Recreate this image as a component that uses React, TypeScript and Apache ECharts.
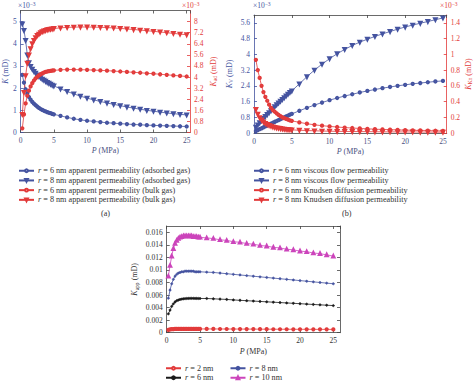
import React, { useEffect, useRef } from 'react';
import * as echarts from 'echarts';

// Pressure points (MPa)
const P = [0.25, 0.5, 0.75, 1, 1.25, 1.5, 1.75, 2, 2.25, 2.5, 2.75, 3, 3.25, 3.5, 3.75, 4, 4.25, 4.5, 4.75, 5,
  6, 7, 8, 9, 10, 11, 12, 13, 14, 15, 16, 17, 18, 19, 20, 21, 22, 23, 24, 25];

// (a) apparent permeability, x1e-3 mD
const aAds6 = [2.6, 2.25, 1.95, 1.75, 1.6, 1.48, 1.38, 1.3, 1.23, 1.17, 1.11, 1.06, 1.02, 0.98, 0.95, 0.92, 0.89, 0.87, 0.84, 0.82,
  0.75, 0.68, 0.62, 0.57, 0.53, 0.5, 0.47, 0.44, 0.42, 0.4, 0.38, 0.36, 0.35, 0.33, 0.32, 0.31, 0.3, 0.29, 0.28, 0.27];
const aAds8 = [4.9, 4.6, 4.15, 3.5, 3.15, 2.98, 2.86, 2.76, 2.68, 2.6, 2.53, 2.47, 2.41, 2.36, 2.31, 2.26, 2.22, 2.18, 2.14, 2.1,
  1.97, 1.85, 1.74, 1.64, 1.55, 1.47, 1.4, 1.33, 1.27, 1.21, 1.15, 1.1, 1.05, 1.0, 0.96, 0.92, 0.88, 0.85, 0.82, 0.79];
const aBulk6 = [0.3, 1.3, 2.1, 2.65, 3.02, 3.32, 3.56, 3.75, 3.9, 4.02, 4.12, 4.2, 4.27, 4.32, 4.37, 4.4, 4.43, 4.45, 4.47, 4.48,
  4.52, 4.54, 4.54, 4.53, 4.52, 4.5, 4.48, 4.46, 4.43, 4.4, 4.37, 4.34, 4.31, 4.27, 4.24, 4.2, 4.16, 4.12, 4.08, 4.04];
const aBulk8 = [1.3, 2.9, 4.1, 5.0, 5.6, 6.05, 6.4, 6.65, 6.85, 7.0, 7.1, 7.2, 7.27, 7.32, 7.37, 7.41, 7.44, 7.46, 7.48, 7.5,
  7.55, 7.58, 7.6, 7.61, 7.61, 7.6, 7.59, 7.57, 7.54, 7.51, 7.47, 7.43, 7.39, 7.34, 7.3, 7.25, 7.2, 7.15, 7.1, 7.05];

// (b) viscous flow and Knudsen diffusion permeability, x1e-3 mD
const bVis6 = [0.1, 0.15, 0.2, 0.24, 0.29, 0.34, 0.38, 0.43, 0.48, 0.52, 0.57, 0.61, 0.66, 0.7, 0.75, 0.79, 0.84, 0.88, 0.93, 0.97,
  1.13, 1.28, 1.42, 1.55, 1.67, 1.78, 1.88, 1.97, 2.06, 2.14, 2.21, 2.28, 2.34, 2.4, 2.45, 2.5, 2.54, 2.58, 2.62, 2.65];
const bVis8 = [0.3, 0.41, 0.52, 0.63, 0.74, 0.84, 0.94, 1.04, 1.14, 1.24, 1.34, 1.44, 1.53, 1.62, 1.71, 1.8, 1.89, 1.98, 2.06, 2.14,
  2.5, 2.86, 3.2, 3.5, 3.78, 4.03, 4.25, 4.45, 4.62, 4.77, 4.91, 5.04, 5.16, 5.28, 5.39, 5.49, 5.58, 5.67, 5.76, 5.85];
const bKn6 = [0.93, 0.8, 0.7, 0.6, 0.52, 0.46, 0.41, 0.36, 0.32, 0.29, 0.27, 0.25, 0.23, 0.215, 0.2, 0.19, 0.18, 0.17, 0.16, 0.155,
  0.135, 0.118, 0.104, 0.093, 0.084, 0.076, 0.069, 0.063, 0.058, 0.053, 0.049, 0.045, 0.042, 0.039, 0.036, 0.034, 0.032, 0.03, 0.028, 0.026];
const bKn8 = [0.3, 0.24, 0.195, 0.165, 0.14, 0.122, 0.108, 0.096, 0.087, 0.079, 0.072, 0.066, 0.061, 0.057, 0.053, 0.05, 0.047, 0.044, 0.042, 0.04,
  0.035, 0.031, 0.028, 0.025, 0.023, 0.021, 0.02, 0.019, 0.018, 0.017, 0.016, 0.015, 0.014, 0.014, 0.013, 0.013, 0.012, 0.012, 0.011, 0.011];

// (c) K_app (mD)
const c2 = [0.00045, 0.00052, 0.00056, 0.00058, 0.0006, 0.0006, 0.00061, 0.00061, 0.00061, 0.00061, 0.00061, 0.00061, 0.00061, 0.00061, 0.00061, 0.0006, 0.0006, 0.0006, 0.0006, 0.0006,
  0.0006, 0.0006, 0.00059, 0.00059, 0.00058, 0.00058, 0.00057, 0.00057, 0.00056, 0.00056, 0.00055, 0.00055, 0.00055, 0.00054, 0.00054, 0.00054, 0.00053, 0.00053, 0.00053, 0.00052];
const c6 = [0.003, 0.0036, 0.0042, 0.0046, 0.0049, 0.0051, 0.0052, 0.0053, 0.00535, 0.0054, 0.00543, 0.00545, 0.00546, 0.00547, 0.00547, 0.00547, 0.00546, 0.00546, 0.00545, 0.00545,
  0.00545, 0.0054, 0.00535, 0.0053, 0.00522, 0.00516, 0.0051, 0.00504, 0.00498, 0.00492, 0.00486, 0.0048, 0.00474, 0.00468, 0.00462, 0.00456, 0.0045, 0.00444, 0.00438, 0.00432];
const c8 = [0.0055, 0.0068, 0.0078, 0.0085, 0.009, 0.0093, 0.0095, 0.0096, 0.0097, 0.0097, 0.0098, 0.0098, 0.0098, 0.0098, 0.0098, 0.0098, 0.0097, 0.0097, 0.0097, 0.0097,
  0.00965, 0.0096, 0.0095, 0.0094, 0.0093, 0.0092, 0.0091, 0.009, 0.0089, 0.0088, 0.0087, 0.0086, 0.0085, 0.0084, 0.0083, 0.0082, 0.0081, 0.008, 0.0079, 0.0078];
const c10 = [0.009, 0.0107, 0.0122, 0.0134, 0.0142, 0.0147, 0.015, 0.0152, 0.0153, 0.0154, 0.0154, 0.0154, 0.0154, 0.0154, 0.0154, 0.0153, 0.0153, 0.0153, 0.0152, 0.0152,
  0.0151, 0.015, 0.0148, 0.0147, 0.0145, 0.0144, 0.0142, 0.0141, 0.0139, 0.0138, 0.0136, 0.0135, 0.0133, 0.0132, 0.013, 0.0129, 0.0127, 0.0126, 0.0124, 0.0122];

const namesA = [
  'r = 6 nm apparent permeability (adsorbed gas)',
  'r = 8 nm apparent permeability (adsorbed gas)',
  'r = 6 nm apparent permeability (bulk gas)',
  'r = 8 nm apparent permeability (bulk gas)',
];
const namesB = [
  'r = 6 nm viscous flow permeability',
  'r = 8 nm viscous flow permeability',
  'r = 6 nm Knudsen diffusion permeability',
  'r = 8 nm Knudsen diffusion permeability',
];
const namesC = ['r = 2 nm', 'r = 6 nm', 'r = 8 nm', 'r = 10 nm'];

const FONT = '"Liberation Serif", "DejaVu Serif", serif';
const BLUE = '#4453a0';
const RED = '#e23a3a';
const MAG = '#cc44bb';
const BLK = '#1a1a1a';
const GREY = '#444';
const FS = 7.5;
const LFS = 8.2;

const pairs = (ys: number[]) => P.map((p, i) => [p, ys[i]]);

const nameRich = (color: string) => ({
  i: { fontFamily: FONT, fontSize: 8, fontStyle: 'italic', color, lineHeight: 10 },
  s: { fontFamily: FONT, fontSize: 5.5, color, verticalAlign: 'bottom', lineHeight: 10 },
  n: { fontFamily: FONT, fontSize: 8, color, lineHeight: 10 },
});

function xAxes(grid: number, max: number, labelColor: string, gap: number) {
  const common = {
    gridIndex: grid, type: 'value', min: 0, max, interval: 5,
    splitLine: { show: false },
    axisLine: { show: true, onZero: false, lineStyle: { color: GREY, width: 0.8 } },
    axisTick: { inside: true, length: 3, lineStyle: { color: GREY, width: 0.8 } },
  };
  return [
    {
      ...common, position: 'bottom',
      axisLabel: { fontFamily: FONT, fontSize: FS, color: labelColor, margin: 4, showMaxLabel: false },
      name: '{i|P}{n| (MPa)}', nameLocation: 'middle', nameGap: gap,
      nameTextStyle: { rich: nameRich(labelColor) },
    },
    { ...common, position: 'top', axisLabel: { show: false } },
  ];
}

function yAxis(grid: number, pos: 'left' | 'right', max: number, interval: number, color: string,
  labelColor: string, name: string, gap: number, showLabel = true) {
  return {
    gridIndex: grid, type: 'value', position: pos, min: 0, max, interval,
    splitLine: { show: false },
    axisLine: { show: true, onZero: false, lineStyle: { color, width: 0.8 } },
    axisTick: { inside: true, length: 3, lineStyle: { color, width: 0.8 } },
    axisLabel: { show: showLabel, fontFamily: FONT, fontSize: FS, color: labelColor, margin: 4, showMaxLabel: false },
    name, nameLocation: 'middle', nameGap: gap, nameRotate: 90,
    nameTextStyle: { rich: nameRich(labelColor) },
  };
}

function line(name: string, xi: number, yi: number, ys: number[], color: string, symbol: string, size: number, rot = 0) {
  return {
    name, type: 'line', xAxisIndex: xi, yAxisIndex: yi, data: pairs(ys),
    symbol, symbolSize: size, symbolRotate: rot, showSymbol: true,
    lineStyle: { color, width: 0.8 },
    itemStyle: { color, borderColor: color, borderWidth: 0.6 },
    emphasis: { disabled: true },
  };
}

const legendBase = {
  orient: 'vertical', itemWidth: 15, itemHeight: 3.5, itemGap: 1.2, selectedMode: false,
  textStyle: {
    fontFamily: FONT, fontSize: LFS, color: '#333', lineHeight: 8.5, padding: [0, 0, 0, -1],
    rich: { i: { fontFamily: FONT, fontSize: LFS, fontStyle: 'italic', color: '#333', lineHeight: 8.5 } },
  },
  formatter: (n: string) => '{i|r}' + n.slice(1),
  padding: 0,
};

const expText = (x: number, y: number, color: string) => ({
  type: 'text', left: x, top: y,
  style: {
    text: '×10{s|−3}', fill: color, font: `${FS}px ${FONT}`,
    rich: { s: { fontSize: 5.5, fontFamily: FONT, verticalAlign: 'top', lineHeight: 8, fill: color } },
  },
});

export default function App() {
  const ref = useRef<HTMLDivElement>(null);
  useEffect(() => {
    if (!ref.current) return;
    const chart = echarts.init(ref.current, undefined, { renderer: 'svg' });
    const option: any = {
      animation: false,
      backgroundColor: '#fff',
      grid: [
        { left: 19, top: 10.5, width: 171, height: 122 },
        { left: 254, top: 15, width: 195, height: 118 },
        { left: 166.7, top: 226, width: 173.3, height: 106.7 },
      ],
      xAxis: [
        ...xAxes(0, 25.5, '#4a5080', 13),
        ...xAxes(1, 25.5, '#4a5080', 13),
        ...xAxes(2, 26, '#333', 14),
      ],
      yAxis: [
        yAxis(0, 'left', 5.5, 1, BLUE, BLUE, '{i|K}{n| (mD)}', 8),
        yAxis(0, 'right', 8.8, 0.8, RED, RED, '{i|K}{s|ad}{n| (mD)}', 18),
        yAxis(1, 'left', 6, 0.8, BLUE, BLUE, '{i|K}{s|V}{n| (mD)}', 20),
        yAxis(1, 'right', 1.5, 0.2, RED, RED, '{i|K}{s|Kn}{n| (mD)}', 14),
        yAxis(2, 'left', 0.017, 0.002, GREY, '#333', '{i|K}{s|app}{n| (mD)}', 27),
        yAxis(2, 'right', 0.017, 0.002, GREY, '#333', '', 10, false),
      ],
      legend: [
        { ...legendBase, left: 18, top: 166.5, data: namesA },
        { ...legendBase, left: 253, top: 166.5, data: namesB },
        { ...legendBase, orient: 'horizontal', left: 165, top: 364, itemGap: 16, data: [namesC[0], namesC[2]] },
        { ...legendBase, orient: 'horizontal', left: 165, top: 373.5, itemGap: 16, data: [namesC[1], namesC[3]] },
      ],
      graphic: [
        expText(18, 1, BLUE),
        expText(182, 1, RED),
        expText(253, 1, BLUE),
        expText(440, 1, RED),
        { type: 'text', left: 101, top: 209, style: { text: '(a)', fill: '#333', font: `${LFS}px ${FONT}` } },
        { type: 'text', left: 342, top: 209, style: { text: '(b)', fill: '#333', font: `${LFS}px ${FONT}` } },
      ],
      series: [
        line(namesA[0], 0, 0, aAds6, BLUE, 'emptyCircle', 2.3),
        line(namesA[1], 0, 0, aAds8, BLUE, 'emptyTriangle', 2.8, 180),
        line(namesA[2], 0, 1, aBulk6, RED, 'emptyCircle', 2.3),
        line(namesA[3], 0, 1, aBulk8, RED, 'emptyTriangle', 2.8, 180),
        line(namesB[0], 2, 2, bVis6, BLUE, 'emptyCircle', 2.3),
        line(namesB[1], 2, 2, bVis8, BLUE, 'emptyTriangle', 2.8, 180),
        line(namesB[2], 2, 3, bKn6, RED, 'emptyCircle', 2.3),
        line(namesB[3], 2, 3, bKn8, RED, 'emptyTriangle', 2.8, 180),
        line(namesC[0], 4, 4, c2, RED, 'emptyCircle', 2.2),
        line(namesC[1], 4, 4, c6, BLK, 'circle', 2.2),
        line(namesC[2], 4, 4, c8, BLUE, 'circle', 2.2),
        line(namesC[3], 4, 4, c10, MAG, 'emptyTriangle', 2.6),
      ],
    };
    chart.setOption(option);
    return () => chart.dispose();
  }, []);
  return <div ref={ref} style={{ position: 'absolute', left: 0, top: 0, width: 474, height: 382 }} />;
}
